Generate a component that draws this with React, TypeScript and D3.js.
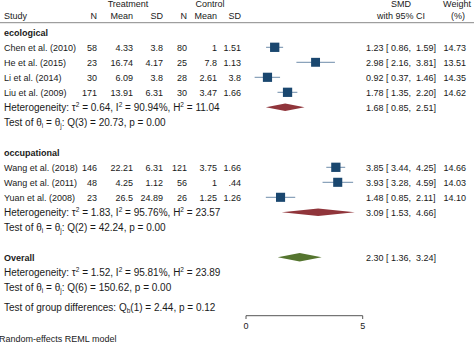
import React from "react";
import * as d3 from "d3";

const studies = ["Chen et al. (2010)", "He et al. (2015)", "Li et al. (2014)", "Liu et al. (2009)", "Wang et al. (2018)", "Wang et al. (2011)", "Yuan et al. (2008)"];
const studyGroup = [0, 0, 0, 0, 1, 1, 1];
const nT = [58, 23, 30, 171, 146, 48, 23];
const meanT = [4.33, 16.74, 6.09, 13.91, 22.21, 4.25, 26.5];
const sdT = [3.8, 4.17, 3.8, 6.31, 6.31, 1.12, 24.89];
const nC = [80, 25, 28, 30, 121, 56, 26];
const meanC = [1, 7.8, 2.61, 3.47, 3.75, 1, 1.25];
const sdC = [1.51, 1.13, 3.8, 1.66, 1.66, 0.44, 1.26];
const smd = [1.23, 2.98, 0.92, 1.78, 3.85, 3.93, 1.48];
const lci = [0.86, 2.16, 0.37, 1.35, 3.44, 3.28, 0.85];
const uci = [1.59, 3.81, 1.46, 2.2, 4.25, 4.59, 2.11];
const weight = [14.73, 13.51, 14.35, 14.62, 14.66, 14.03, 14.1];

const groupNames = ["ecological", "occupational"];
const groupSmd = [1.68, 3.09];
const groupL = [0.85, 1.53];
const groupU = [2.51, 4.66];
const groupTau2 = ["0.64", "1.83"];
const groupI2 = ["90.94", "95.76"];
const groupH2 = ["11.04", "23.57"];
const groupQdf = [3, 2];
const groupQ = ["20.73", "42.24"];
const groupP = ["0.00", "0.00"];

const overall = { smd: 2.3, l: 1.36, u: 3.24, tau2: "1.52", i2: "95.81", h2: "23.89", qdf: 6, q: "150.62", p: "0.00" };
const groupDiff = { df: 1, q: "2.44", p: "0.12" };
const xTicks = [0, 5];

const W = 474, H = 343;
const FONT = "'Liberation Sans', Arial, Helvetica, sans-serif";
const FS = 9;
const FS_NOTE = 10;
const TXT = "#1a1a1a";
const NAVY = "#1a476f";
const CILINE = "#6f8cab";
const MAROON = "#90353b";
const GREEN = "#55752f";

const g = (v: number) => {
  let s = String(+v.toFixed(2));
  if (s.startsWith("0.")) s = s.slice(1);
  return s;
};
const f2 = (v: number) => v.toFixed(2);
const pad5 = (v: number) => { const s = v.toFixed(2); return s.length < 5 ? " ".repeat(5 - s.length) + s : s; };
const ciText = (e: number, l: number, u: number) => `${f2(e)} [${pad5(l)}, ${pad5(u)}]`;

export default function App() {
  const x = d3.scaleLinear().domain([0, 5]).range([246, 362.7]);
  const y = d3.scaleLinear().domain([0, 1]).range([32.3, 47.3]);
  const sizeScale = d3.scaleSqrt().domain([0, 14.73]).range([0, 9.3]);

  const cols = [
    { x: 97, vals: nT.map(String) },
    { x: 133, vals: meanT.map(g) },
    { x: 163, vals: sdT.map(g) },
    { x: 187, vals: nC.map(String) },
    { x: 217, vals: meanC.map(g) },
    { x: 241, vals: sdC.map(g) },
  ];

  const rows: any[] = [];
  let idx = 0;
  groupNames.forEach((gn, gi) => {
    rows.push({ type: "group", i: idx, gi });
    idx++;
    studies.forEach((s, si) => {
      if (studyGroup[si] === gi) { rows.push({ type: "study", i: idx, si }); idx++; }
    });
    rows.push({ type: "het", i: idx, gi });
    idx++;
    rows.push({ type: "test", i: idx, gi });
    idx += 2;
  });
  const overallRow = idx;

  const base = (i: number) => y(i) + 3.2;
  const baseN = (i: number) => y(i) + 3.5;

  const T = (props: any) => <text fontFamily={FONT} fontSize={FS} fill={TXT} style={{ whiteSpace: "pre" }} {...props} />;

  const het = (i: number, tau2: string, i2: string, h2: string, key: string) => (
    <T key={key} x={4} y={baseN(i)} fontSize={FS_NOTE}>
      Heterogeneity: τ<tspan dy={-4} fontSize={6.5}>2</tspan><tspan dy={4}> = {tau2}, I</tspan>
      <tspan dy={-4} fontSize={6.5}>2</tspan><tspan dy={4}> = {i2}%, H</tspan>
      <tspan dy={-4} fontSize={6.5}>2</tspan><tspan dy={4}> = {h2}</tspan>
    </T>
  );
  const test = (i: number, df: number, q: string, p: string, key: string) => (
    <T key={key} x={4} y={baseN(i)} fontSize={FS_NOTE}>
      Test of θ<tspan dy={2} fontSize={6.5}>i</tspan><tspan dy={-2}> = θ</tspan><tspan dy={2} fontSize={6.5}>j</tspan>
      <tspan dy={-2}>: Q({df}) = {q}, p = {p}</tspan>
    </T>
  );
  const diamond = (i: number, e: number, l: number, u: number, color: string, h: number) => {
    const cy = y(i);
    const pts = [[x(l), cy], [x(e), cy - h], [x(u), cy], [x(e), cy + h]];
    return <path d={d3.line()(pts as any) + "Z"} fill={color} />;
  };

  return (
    <svg width={W} height={H} style={{ position: "absolute", left: 0, top: 0, background: "#fff" }}>
      <T x={128} y={7.3} textAnchor="middle">Treatment</T>
      <T x={210} y={7.3} textAnchor="middle">Control</T>
      <T x={401} y={7.3} textAnchor="middle">SMD</T>
      <T x={457} y={7.3} textAnchor="middle">Weight</T>
      <T x={4} y={19.3}>Study</T>
      {["N", "Mean", "SD", "N", "Mean", "SD"].map((h, k) => (
        <T key={"h" + k} x={cols[k].x} y={19.3} textAnchor="end">{h}</T>
      ))}
      <T x={401} y={19.3} textAnchor="middle">with 95% CI</T>
      <T x={458} y={19.3} textAnchor="middle">(%)</T>
      <line x1={0} x2={W} y1={22.7} y2={22.7} stroke="#888" strokeWidth={1} />

      {rows.map((r) => {
        if (r.type === "group") return <T key={"g" + r.i} x={4} y={base(r.i)} fontWeight="bold">{groupNames[r.gi]}</T>;
        if (r.type === "het") return (
          <g key={"het" + r.i}>
            {het(r.i, groupTau2[r.gi], groupI2[r.gi], groupH2[r.gi], "ht" + r.i)}
            {diamond(r.i, groupSmd[r.gi], groupL[r.gi], groupU[r.gi], MAROON, 3.8)}
            <T x={366} y={base(r.i)}>{ciText(groupSmd[r.gi], groupL[r.gi], groupU[r.gi])}</T>
          </g>
        );
        if (r.type === "test") return test(r.i, groupQdf[r.gi], groupQ[r.gi], groupP[r.gi], "t" + r.i);
        const si = r.si;
        const s = sizeScale(weight[si]);
        const cy = y(r.i);
        return (
          <g key={"s" + si}>
            <T x={4} y={base(r.i)}>{studies[si]}</T>
            {cols.map((c, k) => <T key={k} x={c.x} y={base(r.i)} textAnchor="end">{c.vals[si]}</T>)}
            <line x1={x(lci[si])} x2={x(uci[si])} y1={cy} y2={cy} stroke={CILINE} strokeWidth={1} />
            <rect x={x(smd[si]) - s / 2} y={cy - s / 2} width={s} height={s} fill={NAVY} />
            <T x={366} y={base(r.i)}>{ciText(smd[si], lci[si], uci[si])}</T>
            <T x={466} y={base(r.i)} textAnchor="end">{weight[si].toFixed(2)}</T>
          </g>
        );
      })}

      <T x={4} y={base(overallRow)} fontWeight="bold">Overall</T>
      {diamond(overallRow, overall.smd, overall.l, overall.u, GREEN, 4.3)}
      <T x={366} y={base(overallRow)}>{ciText(overall.smd, overall.l, overall.u)}</T>
      {het(overallRow + 1, overall.tau2, overall.i2, overall.h2, "oh")}
      {test(overallRow + 2, overall.qdf, overall.q, overall.p, "ot")}
      <T x={4} y={baseN(overallRow + 3.36)} fontSize={FS_NOTE}>
        Test of group differences: Q<tspan dy={2} fontSize={6.5}>b</tspan><tspan dy={-2}>({groupDiff.df}) = {groupDiff.q}, p = {groupDiff.p}</tspan>
      </T>

      <g>
        <line x1={x(0)} x2={x(5)} y1={315.7} y2={315.7} stroke="#555" strokeWidth={1} />
        {xTicks.map((t) => (
          <g key={"tk" + t}>
            <line x1={x(t)} x2={x(t)} y1={315.7} y2={319} stroke="#555" strokeWidth={1} />
            <T x={x(t)} y={329} textAnchor="middle">{t}</T>
          </g>
        ))}
      </g>

      <T x={-1} y={base(overallRow + 5.45)}>Random-effects REML model</T>
    </svg>
  );
}
